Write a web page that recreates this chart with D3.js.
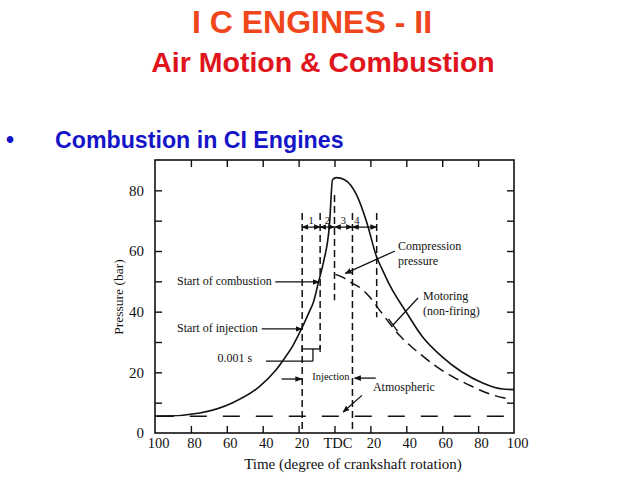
<!DOCTYPE html>
<html>
<head>
<meta charset="utf-8">
<script src="https://cdn.jsdelivr.net/npm/d3@7"></script>
<style>
  html, body { margin: 0; padding: 0; background: #fff; }
  svg { display: block; }
</style>
</head>
<body>
<svg id="chart" width="638" height="492"></svg>
<script>
// ---------- data ----------
const firing = [
  [-100, 5.6], [-94, 5.6], [-75, 6.6], [-57, 9.9], [-42, 15.2], [-33, 20.5],
  [-28, 24.5], [-23, 29], [-18.4, 34.3], [-14, 40], [-11.7, 43.2], [-8.9, 49.8],
  [-6.1, 56.4], [-2.8, 68.6], [-1.1, 83.5], [1.1, 84.2], [5.6, 83.5], [12.3, 78.5],
  [17.9, 69.6], [23.5, 58], [26.7, 53.8], [30.7, 48.8], [40, 39.8],
  [49, 31.7], [60, 25.1], [71, 20.1], [82.5, 16.5], [93.6, 14.5], [100, 14.3]
];
// motoring (non-firing) branch, visible after it leaves the firing curve
const motoring = [
  [0.5, 52.3], [5, 51.2], [9.5, 49.5], [15, 47.6], [19.5, 44.9], [25, 40.6],
  [37, 31.7], [47, 26.4], [57, 21.8], [66, 18.5], [75, 15.8], [85, 13.2],
  [94, 11.6], [98, 11.2]
];
const atmosphericPressure = 5.5;
const phaseBoundaries = [-18, -8, 0, 10, 23.5];       // crank angles of dashed lines
const phaseLineBottoms = [0, 27.7, 43.8, 0, 38.2];     // pressure where each dashed line stops
const phaseLineTops = [72.5, 72.5, 78.5, 72.5, 72.5];
const phaseLabels = ["1", "2", "3", "4"];
const phaseLabelAngles = [-13, -4, 5, 12.5];
const xTickValues = [-100, -80, -60, -40, -20, 0, 20, 40, 60, 80, 100];
const xTickLabels = ["100", "80", "60", "40", "20", "TDC", "20", "40", "60", "80", "100"];
const yTickValues = [0, 20, 40, 60, 80];
const yMinorTicks = [10, 20, 30, 40, 50, 60, 70, 80];
const innerXTicks = [-80, -60, -40, -20, 0, 20, 40, 60, 80];

// ---------- layout ----------
const svg = d3.select("#chart");
const serif = "'Liberation Serif', 'Times New Roman', serif";
const sans = "'Liberation Sans', Arial, sans-serif";

const x = d3.scaleLinear().domain([-100, 100]).range([155, 514]);
const y = d3.scaleLinear().domain([0, 90]).range([433, 160]);

// titles
svg.append("text").attr("x", 312).attr("y", 33).attr("text-anchor", "middle")
  .attr("font-family", sans).attr("font-weight", "bold").attr("font-size", 32)
  .attr("fill", "#f0461c").text("I C ENGINES - II");
svg.append("text").attr("x", 323).attr("y", 72).attr("text-anchor", "middle")
  .attr("font-family", sans).attr("font-weight", "bold").attr("font-size", 28.5)
  .attr("fill", "#e0141c").text("Air Motion & Combustion");
svg.append("text").attr("x", 6).attr("y", 148)
  .attr("font-family", sans).attr("font-weight", "bold").attr("font-size", 23)
  .attr("fill", "#1414c8").text("•");
svg.append("text").attr("x", 55).attr("y", 148)
  .attr("font-family", sans).attr("font-weight", "bold").attr("font-size", 23.2)
  .attr("fill", "#1414c8").text("Combustion in CI Engines");

// markers
const defs = svg.append("defs");
defs.append("marker").attr("id", "arrow").attr("viewBox", "0 0 10 10")
  .attr("refX", 9).attr("refY", 5).attr("markerWidth", 7).attr("markerHeight", 7)
  .attr("markerUnits", "userSpaceOnUse").attr("orient", "auto")
  .append("path").attr("d", "M0,1 L10,5 L0,9 Z").attr("fill", "#111");

const g = svg.append("g");

// frame
g.append("rect").attr("x", x(-100)).attr("y", y(90))
  .attr("width", x(100) - x(-100)).attr("height", y(0) - y(90))
  .attr("fill", "none").attr("stroke", "#111").attr("stroke-width", 1.6);

// axes with inward ticks
const tickLen = 7;
g.append("g").attr("transform", `translate(${x(-100)},0)`)
  .call(d3.axisRight(y).tickValues(yMinorTicks).tickSize(tickLen).tickFormat(""))
  .call(s => s.select(".domain").remove());
g.append("g").attr("transform", `translate(${x(100)},0)`)
  .call(d3.axisLeft(y).tickValues(yMinorTicks).tickSize(tickLen).tickFormat(""))
  .call(s => s.select(".domain").remove());
g.append("g").attr("transform", `translate(0,${y(90)})`)
  .call(d3.axisBottom(x).tickValues(innerXTicks).tickSize(tickLen).tickFormat(""))
  .call(s => s.select(".domain").remove());
g.append("g").attr("transform", `translate(0,${y(0)})`)
  .call(d3.axisTop(x).tickValues(innerXTicks).tickSize(tickLen).tickFormat(""))
  .call(s => s.select(".domain").remove());
g.selectAll(".tick line").attr("stroke", "#111").attr("stroke-width", 1.4);

// tick labels
const yLab = d3.axisLeft(y).tickValues(yTickValues).tickSize(0).tickPadding(11);
g.append("g").attr("transform", `translate(${x(-100)},0)`).call(yLab)
  .call(s => s.select(".domain").remove())
  .selectAll("text").attr("font-family", serif).attr("font-size", 15).attr("fill", "#111");
const xLab = d3.axisBottom(x).tickValues(xTickValues).tickSize(0).tickPadding(5)
  .tickFormat((d, i) => xTickLabels[i]);
g.append("g").attr("transform", `translate(3,${y(0)})`).call(xLab)
  .call(s => s.select(".domain").remove())
  .selectAll("text").attr("font-family", serif).attr("font-size", 14.5).attr("fill", "#111");

// axis titles
svg.append("text").attr("transform", `translate(123,297) rotate(-90)`)
  .attr("text-anchor", "middle").attr("font-family", serif).attr("font-size", 13.5)
  .attr("fill", "#111").text("Pressure (bar)");
svg.append("text").attr("x", 353).attr("y", 469).attr("text-anchor", "middle")
  .attr("font-family", serif).attr("font-size", 15).attr("fill", "#111")
  .text("Time (degree of crankshaft rotation)");

// atmospheric line
g.append("line").attr("x1", x(-99)).attr("x2", x(98))
  .attr("y1", y(atmosphericPressure)).attr("y2", y(atmosphericPressure))
  .attr("stroke", "#111").attr("stroke-width", 1.4).attr("stroke-dasharray", "17,16");

// phase dashed lines
g.selectAll(".phase").data(phaseBoundaries).join("line")
  .attr("x1", d => x(d)).attr("x2", d => x(d))
  .attr("y1", (d, i) => y(phaseLineTops[i])).attr("y2", (d, i) => y(phaseLineBottoms[i]))
  .attr("stroke", "#111").attr("stroke-width", 1.5).attr("stroke-dasharray", "7,4");

// curves
const line = d3.line().x(d => x(d[0])).y(d => y(d[1])).curve(d3.curveMonotoneX);
g.append("path").datum(motoring).attr("d", line).attr("fill", "none")
  .attr("stroke", "#111").attr("stroke-width", 1.5).attr("stroke-dasharray", "11,6");
g.append("path").datum(firing).attr("d", line).attr("fill", "none")
  .attr("stroke", "#111").attr("stroke-width", 1.6);

// phase dimension line
const dimP = 67.9;
g.append("line").attr("x1", x(phaseBoundaries[0])).attr("x2", x(phaseBoundaries[4]))
  .attr("y1", y(dimP)).attr("y2", y(dimP)).attr("stroke", "#111").attr("stroke-width", 1.3);
for (let i = 0; i < 4; i++) {
  const a = phaseBoundaries[i], b = phaseBoundaries[i + 1];
  const m = (a + b) / 2;
  g.append("line").attr("x1", x(m)).attr("x2", x(a)).attr("y1", y(dimP)).attr("y2", y(dimP))
    .attr("stroke", "none").attr("marker-end", "url(#arrow)");
  g.append("line").attr("x1", x(m)).attr("x2", x(b)).attr("y1", y(dimP)).attr("y2", y(dimP))
    .attr("stroke", "none").attr("marker-end", "url(#arrow)");
}
g.selectAll(".plab").data(phaseLabels).join("text")
  .attr("x", (d, i) => x(phaseLabelAngles[i])).attr("y", y(dimP) - 3)
  .attr("text-anchor", "middle").attr("font-family", serif).attr("font-size", 10.5)
  .attr("fill", "#111").text(d => d);

// annotation helper
function arrow(a0, p0, a1, p1, head = true) {
  const l = g.append("line").attr("x1", x(a0)).attr("y1", y(p0)).attr("x2", x(a1)).attr("y2", y(p1))
    .attr("stroke", "#111").attr("stroke-width", 1.3);
  if (head) l.attr("marker-end", "url(#arrow)");
  return l;
}
function label(txt, a, p, anchor = "start", size = 12) {
  g.append("text").attr("x", x(a)).attr("y", y(p)).attr("text-anchor", anchor)
    .attr("dominant-baseline", "middle").attr("font-family", serif).attr("font-size", size)
    .attr("fill", "#111").text(txt);
}

label("Start of combustion", -35, 49.8, "end");
arrow(-33, 49.8, -8.6, 49.8);
label("Start of injection", -42.8, 34.3, "end");
arrow(-40.5, 34.3, -18.2, 34.3);
label("0.001 s", -45.8, 24.2, "end");
arrow(-38.2, 23.7, -12, 23.7, false);
arrow(-12, 23.7, -12, 27.7, false);
arrow(-18, 27.7, -8, 27.7, false);
arrow(-18, 26.7, -18, 28.7, false);
arrow(-8, 26.7, -8, 28.7, false);
label("Injection", -2, 18.3, "middle", 10.5);
arrow(-29.5, 17.8, -18.3, 17.8);
arrow(23, 18.1, 11.2, 18.1);
label("Compression", 35.4, 61.4);
label("pressure", 35.4, 56.4);
arrow(33.7, 60, 6, 52.6);
label("Motoring", 49.3, 44.6);
label("(non-firing)", 49.3, 39.8);
arrow(46.5, 44.5, 32.6, 35.6, false);
arrow(30.1, 37.6, 35.1, 33.6, false);
label("Atmospheric", 21.4, 14.8);
arrow(15.3, 12.4, 4.8, 6.9);
</script>
</body>
</html>
